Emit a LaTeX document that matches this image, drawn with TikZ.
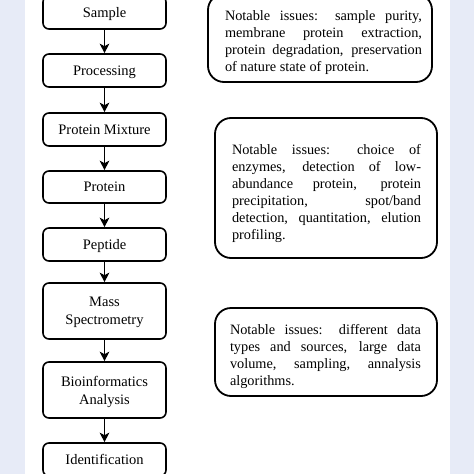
\documentclass[tikz,border=0pt]{standalone}
\usepackage{fontspec}
\setmainfont{Liberation Serif}
\usetikzlibrary{arrows.meta}
\definecolor{bgblue}{HTML}{E7EBF7}
\tikzset{
  stepbox/.style={draw=black, line width=1.6pt, rounded corners=6pt, fill=white,
    minimum width=123pt, inner sep=2pt, align=center, text depth=0pt,
    font=\fontsize{14.5}{18}\selectfont},
  notebox/.style={draw=black, line width=1.8pt, rounded corners=16pt, fill=white,
    inner sep=0pt},
  notetext/.style={inner sep=0pt, font=\fontsize{14.3}{17}\selectfont},
  flow/.style={line width=1.7pt, -{Stealth[length=9.5pt,width=9.5pt,inset=2.5pt]}}
}
\begin{document}
\begin{tikzpicture}[x=1pt,y=-1pt]
\useasboundingbox (0,0) rectangle (474,474);
\fill[bgblue] (0,0) rectangle (25,474);
\fill[bgblue] (450,0) rectangle (474,474);
\fill[white] (25,0) rectangle (450,474);

\node[stepbox, minimum height=33pt] (sample) at (104.5,12.5) {Sample};
\node[stepbox, minimum height=33pt] (proc) at (104.5,70.5) {Processing};
\node[stepbox, minimum height=33pt] (mix) at (104.5,129.5) {Protein Mixture};
\node[stepbox, minimum height=32pt] (prot) at (104.5,187) {Protein};
\node[stepbox, minimum height=33pt] (pep) at (104.5,244.5) {Peptide};
\node[stepbox, minimum height=56pt] (ms) at (104.5,311) {Mass\\Spectrometry};
\node[stepbox, minimum height=56pt] (bio) at (104.5,390) {Bioinformatics\\Analysis};
\node[stepbox, minimum height=33pt] (ident) at (104.5,459.5) {Identification};

\draw[flow] (sample) -- (proc);
\draw[flow] (proc) -- (mix);
\draw[flow] (mix) -- (prot);
\draw[flow] (prot) -- (pep);
\draw[flow] (pep) -- (ms);
\draw[flow] (ms) -- (bio);
\draw[flow] (bio) -- (ident);

\node[notebox, minimum width=224pt, minimum height=88pt] (n1) at (320,38) {};
\node[notetext] (t1) at (323.5,42.5) {%
  \parbox{197pt}{Notable issues: sample purity,\linebreak membrane protein extraction,\linebreak protein degradation, preservation\linebreak of nature state of protein.}};
\node[notebox, minimum width=222pt, minimum height=140pt] (n2) at (326,188) {};
\node[notetext] (t2) at (326.5,194) {%
  \parbox{189pt}{Notable issues: choice of\linebreak enzymes, detection of low-\linebreak abundance protein, protein\linebreak precipitation, spot/band\linebreak detection, quantitation, elution\linebreak profiling.}};
\node[notebox, minimum width=222pt, minimum height=88pt] (n3) at (326,352) {};
\node[notetext] (t3) at (325.5,356.5) {%
  \parbox{191pt}{Notable issues: different data\linebreak types and sources, large data\linebreak volume, sampling, annalysis\linebreak algorithms.}};
\end{tikzpicture}
\end{document}
